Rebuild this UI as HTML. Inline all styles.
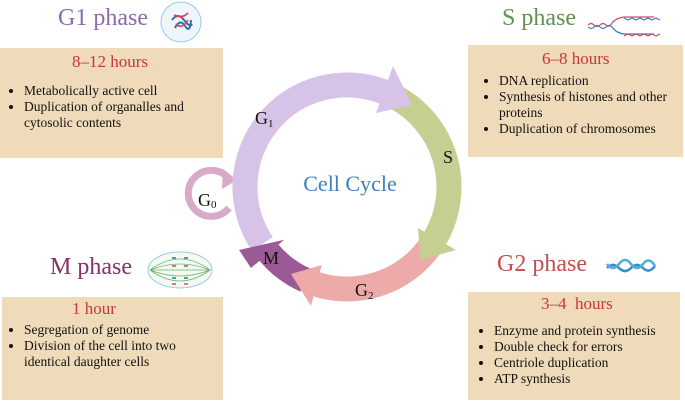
<!DOCTYPE html>
<html><head><meta charset="utf-8"><style>
body{margin:0;width:685px;height:403px;background:#fff;position:relative;overflow:hidden;font-family:"Liberation Serif",serif;}
.box{position:absolute;background:#efdbba;}
.t{position:absolute;font-size:24px;white-space:nowrap;}
.h{position:absolute;font-size:17px;color:#c8373a;white-space:nowrap;}
ul{position:absolute;margin:0;padding:0 0 0 18px;font-size:13.5px;line-height:16px;color:#111;}
li{padding-left:0}
</style></head><body>
<div class="box" style="left:0;top:48px;width:223px;height:110px"></div>
<div class="box" style="left:468px;top:45px;width:215px;height:112px"></div>
<div class="box" style="left:2px;top:297px;width:221px;height:103px"></div>
<div class="box" style="left:468px;top:292px;width:212px;height:108px"></div>

<div class="t" style="left:58px;top:5px;color:#8d6aae">G1 phase</div>
<div class="t" style="left:502px;top:5px;color:#5f924f">S phase</div>
<div class="t" style="left:50px;top:254px;color:#8b2e6a">M phase</div>
<div class="t" style="left:497px;top:251px;color:#c24f4d">G2 phase</div>

<div class="h" style="left:72px;top:52px">8–12 hours</div>
<div class="h" style="left:542px;top:49px">6–8 hours</div>
<div class="h" style="left:72px;top:299px">1 hour</div>
<div class="h" style="left:541px;top:294px">3–4&nbsp; hours</div>

<ul style="left:6px;top:83px"><li>Metabolically active cell</li><li>Duplication of organalles and<br>cytosolic contents</li></ul>
<ul style="left:481px;top:73px"><li>DNA replication</li><li>Synthesis of histones and other<br>proteins</li><li>Duplication of chromosomes</li></ul>
<ul style="left:6px;top:322px"><li>Segregation of genome</li><li>Division of the cell into two<br>identical daughter cells</li></ul>
<ul style="left:476px;top:323px"><li>Enzyme and protein synthesis</li><li>Double check for errors</li><li>Centriole duplication</li><li>ATP synthesis</li></ul>

<svg width="685" height="403" style="position:absolute;left:0;top:0" font-family="Liberation Serif, serif">
<circle cx="181" cy="22" r="20" fill="#eef6fb" stroke="#9cc8e6" stroke-width="1"/>
<path d="M172 20q6-8 12 0t8 4M175 28q5-10 10-2t6-6" stroke="#2f6fa8" stroke-width="2" fill="none"/>
<path d="M174 15q8 4 14-2M176 24q6 6 12-4" stroke="#d8455a" stroke-width="1.6" fill="none"/>
<g stroke-width="1.2" fill="none">
<path d="M588 25q3-3 6 0t6 0t6 0t6-2q4-5 12-6h30" stroke="#d04a5a"/>
<path d="M588 27q3 3 6 0t6 0t6 0t6 0q4 6 12 7h30" stroke="#3a7bbf"/>
<path d="M624 18l4 2 4-2 4 2 4-2 4 2 4-2 4 2 4-2 4 2" stroke="#3a7bbf"/>
<path d="M624 36l4-2 4 2 4-2 4 2 4-2 4 2 4-2 4 2 4-2" stroke="#d04a5a"/>
</g>
<ellipse cx="180" cy="270" rx="32" ry="18" fill="#f3faf3" stroke="#9cc8e6"/>
<g stroke="#6fb56f" stroke-width="0.8" fill="none">
<path d="M150 270q30-22 60 0q-30 22-60 0M150 270q30-12 60 0q-30 12-60 0M150 270h60"/>
</g>
<g stroke-width="1.5" fill="none"><path d="M172 258h4M184 258h4M172 278h4M184 278h4" stroke="#2f6fa8"/><path d="M172 266h4M184 266h4M172 284h4M184 284h4" stroke="#d8455a"/></g>
<g fill="none" stroke-width="2.5">
<path d="M607 268q6-6 12 0t12 0t12 0t12-2" stroke="#3a8cc8"/>
<path d="M607 264q6 8 12 0t12 0t12 0t12 2" stroke="#4fb0d8"/>
</g>
<path d="M230 180 A23 23 0 1 0 229 208" stroke="#d9a9c8" stroke-width="7" fill="none"/>
<polygon points="223,169 237,180 222,189" fill="#d9a9c8"/>
<g fill="none" stroke-width="25">
<path d="M262.4 244 A102 102 0 0 1 385.2 92.4" stroke="#d6c3e7"/>
<path d="M394.9 96.9 A102 102 0 0 1 435.3 238" stroke="#c6cf92"/>
<path d="M429.5 247 A102 102 0 0 1 315.5 284" stroke="#ecaaa9"/>
<path d="M305.5 280.2 A102 102 0 0 1 268.9 252.6" stroke="#9b5a96"/>
</g>
<polygon points="376,113 393,66 412,105" fill="#d6c3e7"/>
<polygon points="418,228 456,250 420.4,260" fill="#c6cf92"/>
<polygon points="321.7,265 311,306 291,274" fill="#ecaaa9"/>
<polygon points="284.2,239.7 251,268 239,250" fill="#9b5a96"/>
<text x="255" y="124" font-size="18" fill="#111">G<tspan font-size="11" dy="3">1</tspan></text>
<text x="443" y="163" font-size="18" fill="#111">S</text>
<text x="355" y="296" font-size="18" fill="#111">G<tspan font-size="11" dy="3">2</tspan></text>
<text x="263" y="264" font-size="18" fill="#111">M</text>
<text x="198" y="206" font-size="18" fill="#111">G<tspan font-size="11" dy="2">0</tspan></text>
<text x="350" y="191" font-size="22" fill="#3d80c0" text-anchor="middle">Cell Cycle</text>
</svg>
</body></html>
